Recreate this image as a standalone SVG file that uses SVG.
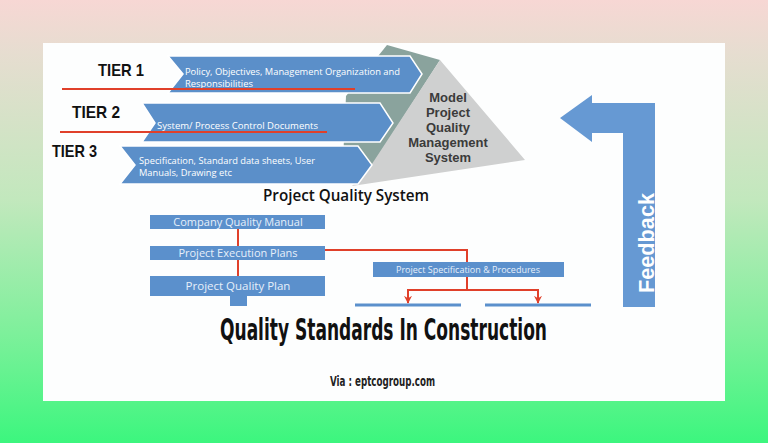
<svg xmlns="http://www.w3.org/2000/svg" width="768" height="443" viewBox="0 0 768 443">
<defs>
<linearGradient id="bg" x1="0" y1="0" x2="0" y2="1">
<stop offset="0" stop-color="#f7d7d4"/>
<stop offset="0.12" stop-color="#e6ddd0"/>
<stop offset="0.45" stop-color="#c2e8bd"/>
<stop offset="0.75" stop-color="#7ef09b"/>
<stop offset="1" stop-color="#3cf67e"/>
</linearGradient>
<marker id="ah" viewBox="0 0 10 10" refX="9" refY="5" markerWidth="4" markerHeight="4" orient="auto" markerUnits="strokeWidth">
<path d="M0,0 L10,5 L0,10 L3,5 Z" fill="#e0402a"/>
</marker>
<style>
.chev{fill:#5b8fc9;stroke:#ffffff;stroke-width:1.5}
.box{fill:#5b90cc}
.ctext{font-family:"Open Sans","Liberation Sans",sans-serif;fill:#ffffff;font-size:8.5px}
.btext{font-family:"Open Sans","Liberation Sans",sans-serif;fill:#e6effa;text-anchor:middle}
.tier{font-family:"Liberation Sans","Arial",sans-serif;font-weight:bold;font-size:17px;fill:#111111}
.model{font-family:"Liberation Sans","Arial",sans-serif;font-weight:bold;font-size:13px;fill:#3b3b3b;text-anchor:middle}
.red{stroke:#e0402a;stroke-width:2;fill:none}
.redline{stroke:#e0402a;stroke-width:2}
</style>
</defs>
<rect x="0" y="0" width="768" height="443" fill="url(#bg)"/>
<rect x="43" y="43" width="682" height="358" fill="#fdfefe"/>

<g id="pyramid">
<polygon points="387,45 440,60 368,172 342,182 346,96" fill="#8aa39d"/>
<polygon points="440,60 525,160 352,186 368,170" fill="#cfd0d0"/>
</g>

<g id="tier1">
<polygon class="chev" points="168,56 410,56 422,74 410,93 168,93 183,74"/>
<text class="ctext" x="185" y="74.5" textLength="215" lengthAdjust="spacingAndGlyphs">Policy, Objectives, Management Organization and</text>
<text class="ctext" x="185" y="86.5" textLength="68" lengthAdjust="spacingAndGlyphs">Responsibilities</text>
</g>
<g id="tier2">
<polygon class="chev" points="142,103 380,103 393,123 380,142 142,142 155,123"/>
<text class="ctext" x="157" y="129" textLength="161" lengthAdjust="spacingAndGlyphs">System/ Process Control Documents</text>
</g>
<g id="tier3">
<polygon class="chev" points="120,146 358,146 372,165 358,184 120,184 135,165"/>
<text class="ctext" x="139" y="163.5" textLength="176" lengthAdjust="spacingAndGlyphs">Specification, Standard data sheets, User</text>
<text class="ctext" x="139" y="175.5" textLength="93" lengthAdjust="spacingAndGlyphs">Manuals, Drawing etc</text>
</g>

<g id="model-label">
<text class="model" x="448" y="102">Model</text>
<text class="model" x="448" y="117">Project</text>
<text class="model" x="448" y="132">Quality</text>
<text class="model" x="448" y="147">Management</text>
<text class="model" x="448" y="162">System</text>
</g>

<g id="tier-labels">
<text class="tier" x="98" y="76" textLength="46" lengthAdjust="spacingAndGlyphs">TIER 1</text>
<text class="tier" x="72" y="118" textLength="48" lengthAdjust="spacingAndGlyphs">TIER 2</text>
<text class="tier" x="52" y="157" textLength="45" lengthAdjust="spacingAndGlyphs">TIER 3</text>
</g>

<g id="pqs-title">
<text x="263" y="201" font-family="Open Sans, Liberation Sans, sans-serif" font-weight="600" font-size="16" fill="#111111" textLength="166" lengthAdjust="spacingAndGlyphs">Project Quality System</text>
</g>

<g id="company-manual">
<rect class="box" x="150" y="215" width="175" height="14"/>
<text class="btext" x="238" y="226" font-size="11">Company Quality Manual</text>
</g>
<g id="execution-plans">
<rect class="box" x="150" y="246" width="175" height="14"/>
<text class="btext" x="238" y="257" font-size="11">Project Execution Plans</text>
</g>
<g id="quality-plan">
<rect class="box" x="150" y="276" width="175" height="20"/>
<rect class="box" x="230" y="295" width="17" height="11"/>
<text class="btext" x="238" y="290" font-size="11.5">Project Quality Plan</text>
</g>
<g id="spec-procedures">
<rect class="box" x="373" y="262" width="191" height="15"/>
<text class="btext" x="468" y="273" font-size="9">Project Specification &amp; Procedures</text>
</g>
<g id="sub-box-1">
<rect class="box" x="355" y="303.5" width="106" height="3"/>
</g>
<g id="sub-box-2">
<rect class="box" x="485" y="303.5" width="106" height="3"/>
</g>

<g id="feedback">
<polygon points="560,118 592,95 592,103 655,103 655,307 623,307 623,133 592,133 592,142" fill="#6699d3"/>
<text transform="translate(654,243) rotate(-90)" text-anchor="middle" font-family="Liberation Sans, Arial, sans-serif" font-weight="bold" font-size="22" fill="#ffffff" textLength="100" lengthAdjust="spacingAndGlyphs">Feedback</text>
</g>

<g id="connectors">
<line class="redline" x1="62" y1="89" x2="355" y2="89"/>
<line class="redline" x1="60" y1="132" x2="327" y2="132"/>
<line class="redline" x1="238" y1="229" x2="238" y2="246"/>
<line class="redline" x1="238" y1="260" x2="238" y2="276"/>
<polyline class="red" points="325,250 467,250 467,262"/>
<line class="redline" x1="467" y1="277" x2="467" y2="290"/>
<polyline class="red" points="408,290 538,290"/>
<line class="red" x1="408" y1="289" x2="408" y2="303" marker-end="url(#ah)"/>
<line class="red" x1="538" y1="289" x2="538" y2="303" marker-end="url(#ah)"/>
</g>

<g id="captions">
<text x="220" y="340" font-family="Liberation Sans Narrow, DejaVu Sans Condensed, Liberation Sans, sans-serif" font-weight="bold" font-size="30" fill="#111111" textLength="327" lengthAdjust="spacingAndGlyphs">Quality Standards In Construction</text>
<text x="330" y="386" font-family="Liberation Sans Narrow, DejaVu Sans Condensed, Liberation Sans, sans-serif" font-weight="bold" font-size="14" fill="#222222" textLength="105" lengthAdjust="spacingAndGlyphs">Via : eptcogroup.com</text>
</g>
</svg>
